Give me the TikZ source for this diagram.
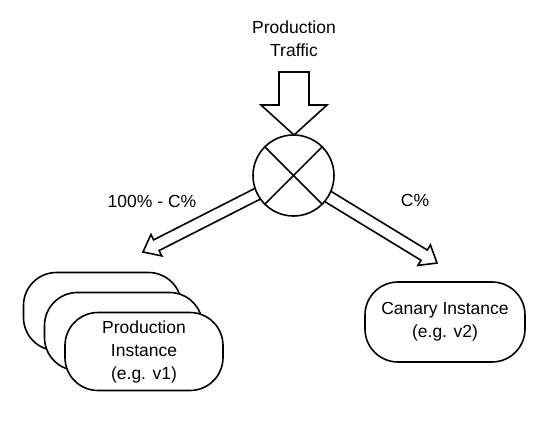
\documentclass[tikz,border=0pt]{standalone}
\usepackage{fontspec}
\setmainfont{Liberation Sans}
\usetikzlibrary{calc}
\tikzset{
  lw/.style={line width=1.6pt},
  inst/.style={lw, draw, fill=white, rectangle, rounded corners=33pt,
     minimum width=158pt, minimum height=78pt, align=center, inner sep=0pt,
     font=\fontsize{17.5}{23}\selectfont},
  lbl/.style={align=center, inner sep=0pt, font=\fontsize{17.5}{23}\selectfont},
  fat/.style={lw, draw, fill=white, line join=miter}
}
\newcommand\fatarrow[5]{% start, end, half shaft, half head, head length
  \coordinate (fa-h) at ($(#2)!#5!(#1)$);
  \draw[fat] ($(#1)!#3!90:(#2)$) -- ($(fa-h)!#3!90:(#2)$) -- ($(fa-h)!#4!90:(#2)$)
    -- (#2) -- ($(fa-h)!#4!-90:(#2)$) -- ($(fa-h)!#3!-90:(#2)$)
    -- ($(#1)!#3!-90:(#2)$) -- cycle;
}
\begin{document}
\begin{tikzpicture}[x=1pt,y=-1pt]
\useasboundingbox (0,0) rectangle (547,428);
% top label
\node[lbl] (traffic) at (294,39) {Production\\Traffic};
% split circle position
\coordinate (cc) at (293.5,175.5);
\coordinate (tipL) at (143,252);
\coordinate (tipR) at (437,263);
\coordinate (topS) at (294,72);
\coordinate (topT) at (294,135);
% arrows
\fatarrow{cc}{tipL}{6pt}{12pt}{15pt}
\fatarrow{cc}{tipR}{6pt}{12pt}{15pt}
\fatarrow{topS}{topT}{15pt}{33pt}{30pt}
% circle
\node[lw, draw, fill=white, circle, minimum size=81pt, inner sep=0pt] (circ) at (cc) {};
\draw[lw] (circ.45) -- (circ.225);
\draw[lw] (circ.135) -- (circ.-45);
% labels
\node[lbl] (lblL) at (152,201) {100\% - C\%};
\node[lbl] (lblR) at (415,200) {C\%};
% instances
\node[inst] (back) at (102.5,311.5) {};
\node[inst] (mid) at (123.5,331.5) {};
\node[inst] (front) at (144,351.5) {Production\\Instance\\(e.g. v1)};
\node[inst, minimum width=160pt, minimum height=80pt] (canary) at (445,322) {Canary Instance\\(e.g. v2)};
\end{tikzpicture}
\end{document}
